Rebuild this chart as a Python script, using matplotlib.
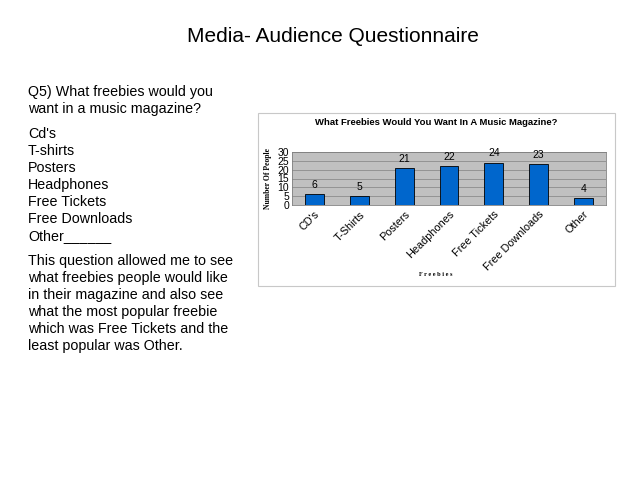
import matplotlib.pyplot as plt
from matplotlib.patches import Rectangle

plt.rcParams['font.family'] = ['Liberation Sans', 'DejaVu Sans']

categories = ["CD's", 'T-Shirts', 'Posters', 'Headphones', 'Free Tickets', 'Free Downloads', 'Other']
votes = [6, 5, 21, 22, 24, 23, 4]
y_ticks = [0, 5, 10, 15, 20, 25, 30]

question_lines = ['Q5) What freebies would you', 'want in a music magazine?']
option_lines = ["Cd's", 'T-shirts', 'Posters', 'Headphones', 'Free Tickets', 'Free Downloads', 'Other______']
summary_lines = ['This question allowed me to see', 'what freebies people would like',
                 'in their magazine and also see', 'what the most popular freebie',
                 'which was Free Tickets and the', 'least popular was Other.']

W, H = 638, 478
fig = plt.figure(figsize=(W / 100, H / 100), dpi=100)


def fy(y):
    return 1 - y / H


fig.text(333 / W, fy(36), 'Media- Audience Questionnaire', fontsize=15, ha='center', va='center')

y = 92
for line in question_lines:
    fig.text(28 / W, fy(y), line, fontsize=10.3, va='center')
    y += 17
y = 134
for line in option_lines:
    fig.text(28 / W, fy(y), line, fontsize=10.3, va='center')
    y += 17
y = 261
for line in summary_lines:
    fig.text(28 / W, fy(y), line, fontsize=10.3, va='center')
    y += 17

# chart frame
fig.patches.append(Rectangle((258 / W, fy(286)), (615 - 258) / W, (286 - 113) / H,
                             transform=fig.transFigure, fill=False, edgecolor='#c8c8c8', linewidth=0.8))
fig.text(436 / W, fy(123), 'What Freebies Would You Want In A Music Magazine?',
         fontsize=6.8, fontweight='bold', ha='center', va='center')

ax = fig.add_axes([292 / W, fy(205), (606 - 292) / W, (205 - 152) / H])
ax.set_facecolor('#c0c0c0')
ax.bar(range(len(categories)), votes, width=0.42, color='#0066cc', edgecolor='black', linewidth=0.6, zorder=3)
for i, v in enumerate(votes):
    ax.annotate(str(v), (i, v), xytext=(0, 3), textcoords='offset points',
                ha='center', va='bottom', fontsize=7.5)
ax.set_xlim(-0.5, len(categories) - 0.5)
ax.set_ylim(0, 30)
ax.set_yticks(y_ticks)
ax.yaxis.grid(True, color='#8c8c8c', linewidth=0.6, zorder=0)
ax.set_axisbelow(True)
ax.set_xticks(range(len(categories)))
ax.set_xticklabels(categories, rotation=45, ha='right', rotation_mode='anchor', fontsize=7.8)
ax.tick_params(axis='y', labelsize=7.5, length=0, pad=2)
ax.tick_params(axis='x', length=0, pad=3)
for s in ax.spines.values():
    s.set_color('#808080')
    s.set_linewidth(0.6)
ax.set_ylabel('Number Of People', fontsize=5.5, fontweight='bold', family='Liberation Serif', labelpad=4)
fig.text(436 / W, fy(275), 'F r e e b i e s', fontsize=4.5, fontweight='bold', family='Liberation Serif',
         ha='center', va='center')

fig.savefig('out.png', dpi=100, facecolor='white')
